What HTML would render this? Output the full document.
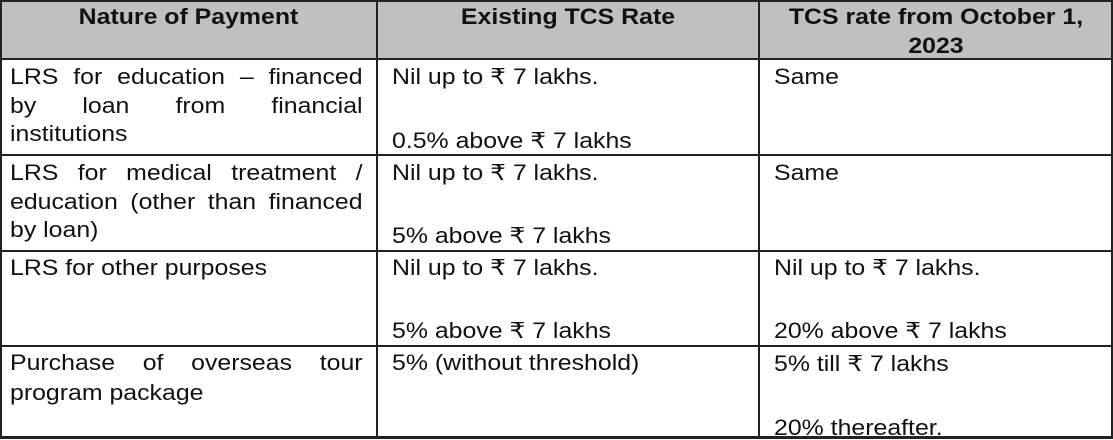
<!DOCTYPE html>
<html><head><meta charset="utf-8"><style>
body{margin:0;width:1113px;height:439px;background:#fff;position:relative;overflow:hidden;font-family:"Liberation Sans","DejaVu Sans",sans-serif;color:#111;font-size:22px;}
.l{position:absolute;line-height:22px;white-space:nowrap;transform:scaleX(1.13);transform-origin:0 0;}
.j{text-align:justify;text-align-last:justify;width:312px;}
.h{font-weight:bold;text-align:center;transform-origin:50% 0;}
.ln{position:absolute;background:#222;}
</style></head><body>
<div style="position:absolute;left:0;top:0;width:1113px;height:59px;background:#c0c0c0"></div>
<div class="ln" style="left:0;top:0;width:1113px;height:2px"></div>
<div class="ln" style="left:0;top:58px;width:1113px;height:2px"></div>
<div class="ln" style="left:0;top:154px;width:1113px;height:2px"></div>
<div class="ln" style="left:0;top:250px;width:1113px;height:2px"></div>
<div class="ln" style="left:0;top:345px;width:1113px;height:2px"></div>
<div class="ln" style="left:0;top:436px;width:1113px;height:3px"></div>
<div class="ln" style="left:0;top:0;width:2px;height:439px"></div>
<div class="ln" style="left:1111px;top:0;width:2px;height:439px"></div>
<div class="ln" style="left:376px;top:0;width:2px;height:439px"></div>
<div class="ln" style="left:758px;top:0;width:2px;height:439px"></div>

<div class="l h" style="left:0;width:377px;top:6px">Nature of Payment</div>
<div class="l h" style="left:377px;width:382px;top:6px">Existing TCS Rate</div>
<div class="l h" style="left:759px;width:354px;top:6px">TCS rate from October 1,</div>
<div class="l h" style="left:759px;width:354px;top:35px">2023</div>

<div class="l j" style="left:10px;top:66px">LRS for education – financed</div>
<div class="l j" style="left:10px;top:95px">by loan from financial</div>
<div class="l" style="left:10px;top:123px">institutions</div>
<div class="l" style="left:392px;top:66px">Nil up to ₹ 7 lakhs.</div>
<div class="l" style="left:392px;top:130px">0.5% above ₹ 7 lakhs</div>
<div class="l" style="left:774px;top:66px">Same</div>

<div class="l j" style="left:10px;top:162px">LRS for medical treatment /</div>
<div class="l j" style="left:10px;top:191px">education (other than financed</div>
<div class="l" style="left:10px;top:219px">by loan)</div>
<div class="l" style="left:392px;top:162px">Nil up to ₹ 7 lakhs.</div>
<div class="l" style="left:392px;top:225px">5% above ₹ 7 lakhs</div>
<div class="l" style="left:774px;top:162px">Same</div>

<div class="l" style="left:10px;top:257px">LRS for other purposes</div>
<div class="l" style="left:392px;top:257px">Nil up to ₹ 7 lakhs.</div>
<div class="l" style="left:392px;top:320px">5% above ₹ 7 lakhs</div>
<div class="l" style="left:774px;top:257px">Nil up to ₹ 7 lakhs.</div>
<div class="l" style="left:774px;top:320px">20% above ₹ 7 lakhs</div>

<div class="l j" style="left:10px;top:352px">Purchase of overseas tour</div>
<div class="l" style="left:10px;top:382px">program package</div>
<div class="l" style="left:392px;top:352px">5% (without threshold)</div>
<div class="l" style="left:774px;top:353px">5% till ₹ 7 lakhs</div>
<div class="l" style="left:774px;top:417px">20% thereafter.</div>
</body></html>
